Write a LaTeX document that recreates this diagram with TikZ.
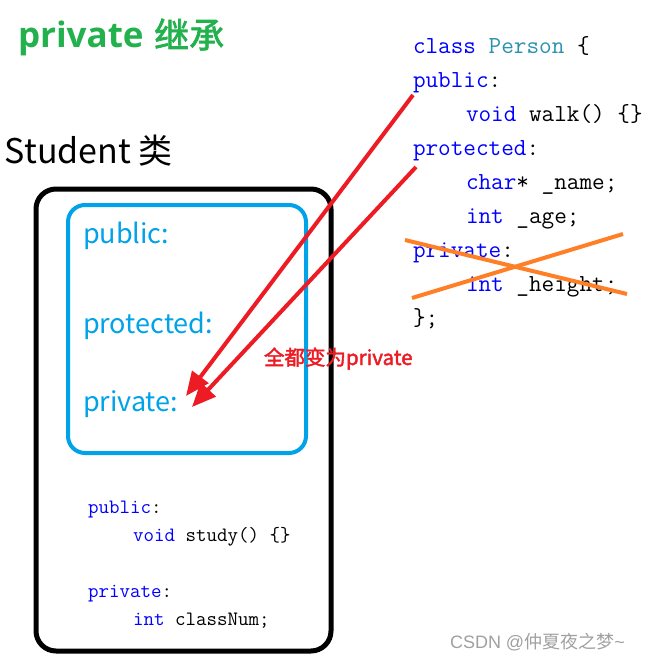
\documentclass[tikz,border=0pt]{standalone}
\usepackage{fontspec}
\usetikzlibrary{arrows.meta}
\newfontfamily\cjk{Noto Sans CJK SC}
\newfontfamily\cjkb{Noto Sans CJK SC}[FakeBold=2]
\newfontfamily\latb{Open Sans Bold}
\newfontfamily\wmfont{Liberation Sans}
\definecolor{titlegreen}{HTML}{22B14C}
\definecolor{boxblue}{HTML}{00A2E8}
\definecolor{arrowred}{HTML}{ED1C24}
\definecolor{crossorange}{HTML}{FF7F27}
\definecolor{kwblue}{HTML}{0000FF}
\definecolor{typeteal}{HTML}{2B91AF}
\definecolor{wmgray}{HTML}{A0A0A0}
\newcommand{\kw}[1]{\textcolor{kwblue}{#1}}
\tikzset{
  txt/.style={anchor=base west, inner sep=0pt, outer sep=0pt},
  codeR/.style={txt, font=\fontsize{24.5}{24.5}\ttfamily},
  codeS/.style={txt, font=\fontsize{20.4}{20.4}\ttfamily},
  access/.style={txt, text=boxblue, font=\cjk\fontsize{27}{27}\selectfont},
  redarrow/.style={draw=arrowred, line width=4pt, -{Triangle[length=24pt,width=20pt]}},
  crossline/.style={draw=crossorange, line width=4pt},
}
\begin{document}
\begin{tikzpicture}[x=1pt,y=-1pt]
\useasboundingbox (0,0) rectangle (647,661);
% titles
\node[txt, text=titlegreen, font=\fontsize{35}{35}\selectfont] (title) at (18,48) {{\latb private} {\cjkb 继承}};
\node[txt, font=\cjk\fontsize{34}{34}\selectfont] (student) at (5,163) {Student 类};
% boxes
\draw[line width=5pt, rounded corners=20pt] (36,189) rectangle (331,651);
\draw[boxblue, line width=4pt, rounded corners=17pt] (68,205) rectangle (306,453);
\node[access] (pub) at (83,243) {public:};
\node[access] (prot) at (83,333) {protected:};
\node[access] (priv) at (83,411) {private:};
% student code
\node[codeS] (s1) at (88,513) {\kw{public}:};
\node[codeS] (s2) at (133,541) {\kw{void} study() \{\}};
\node[codeS] (s3) at (88,597) {\kw{private}:};
\node[codeS] (s4) at (133,625) {\kw{int} classNum;};
% person code
\node[codeR] (p1) at (413,53) {\kw{class} \textcolor{typeteal}{Person} \{};
\node[codeR] (p2) at (413,87) {\kw{public}:};
\node[codeR] (p3) at (466,121) {\kw{void} walk() \{\}};
\node[codeR] (p4) at (413,155) {\kw{protected}:};
\node[codeR] (p5) at (466,189) {\kw{char}* \_name;};
\node[codeR] (p6) at (466,223) {\kw{int} \_age;};
\node[codeR] (p7) at (413,257) {\kw{private}:};
\node[codeR] (p8) at (466,291) {\kw{int} \_height;};
\node[codeR] (p9) at (413,325) {\};};
% cross
\coordinate (c1a) at (405,240);
\coordinate (c1b) at (627,294);
\coordinate (c2a) at (412,298);
\coordinate (c2b) at (623,234);
\draw[crossline] (c1a) -- (c1b);
\draw[crossline] (c2a) -- (c2b);
% arrows
\coordinate (a1s) at (413,95);
\coordinate (a1e) at (186,396);
\coordinate (a2s) at (416,167);
\coordinate (a2e) at (192,407);
\draw[redarrow] (a1s) -- (a1e);
\draw[redarrow] (a2s) -- (a2e);
\node[txt, text=arrowred, font=\cjkb\fontsize{20.5}{20.5}\selectfont] (lbl) at (264,365) {全都变为private};
% watermark
\node[txt, text=wmgray, font=\fontsize{18}{18}\selectfont] (wm) at (450,648) {{\wmfont CSDN @}{\cjk 仲夏夜之梦}{\wmfont\textasciitilde}};
\end{tikzpicture}
\end{document}
